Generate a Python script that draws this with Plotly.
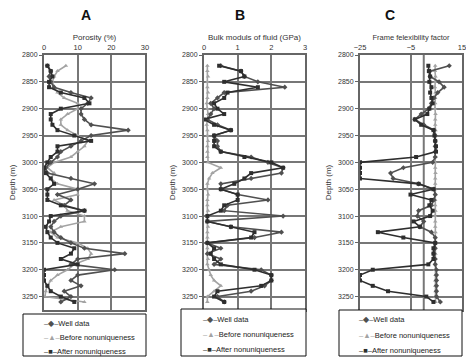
import plotly.graph_objects as go

depth = [2820, 2830, 2840, 2850, 2860, 2870, 2880, 2890, 2900, 2910, 2920, 2930, 2940, 2950, 2960,
         2970, 2980, 2990, 3000, 3010, 3020, 3030, 3040, 3050, 3060, 3070, 3080, 3090, 3100, 3110,
         3120, 3130, 3140, 3150, 3160, 3170, 3180, 3190, 3200, 3210, 3220, 3230, 3240, 3250, 3260]

# Panel A: porosity (%)
poro_well = [1, 2, 1.5, 2, 3, 8, 14, 13, 11, 11, 12, 14, 25, 14, 11,
             8, 5, 4, 2, 0.5, 1, 8, 15, 10, 4, 8, 6, 12, 5, 3,
             2, 3, 5, 8, 12, 24, 10, 8, 21, 10, 8, 11, 6, 8, 5]
poro_before = [6.5, 4, 3, 2.5, 3, 4, 6, 10, 10, 7, 5, 5, 7, 10, 13,
               12, 10, 8, 3, 1, 3, 2, 4, 10, 10, 3, 6, 7, 12, 12,
               5, 2, 4, 10, 13, 14, 13, 9, 7, 4, 2, 1, 0.5, 0.3, 12]
poro_after = [1, 2, 2.5, 1.5, 1.5, 5, 12, 13.5, 5, 2, 2, 2.5, 4, 9, 14,
              4, 4, 2, 1, 0, 0.5, 2, 3, 1, 1, 1, 5, 12, 2, 1.5,
              0.5, 1, 2, 4, 9, 8, 5, 10, 0, 0, 0, 1, 2, 5, 9]

# Panel B: bulk modulus of fluid (GPa)
bulk_well = [0.5, 1.1, 1.2, 1.6, 2.4, 0.6, 0.4, 0.2, 0.3, 0.2, 0.1, 0.4, 0.8, 0.3, 0.4,
             0.4, 0.5, 1.4, 1.9, 2.35, 2.3, 1.4, 0.5, 0.5, 1.0, 1.9, 0.7, 0.6, 2.35, 0.1,
             0.8, 2.3, 1.5, 0.1, 0.5, 0.1, 0.5, 0.3, 1.7, 2.0, 2.0, 1.8, 1.4, 0.4, 0.6]
bulk_before = [0.1, 0.1, 0.12, 0.1, 0.1, 0.12, 0.1, 0.08, 0.1, 0.12, 0.1, 0.08, 0.1, 0.1, 0.12,
               0.1, 0.1, 0.1, 0.12, 0.5, 0.25, 0.15, 0.1, 0.1, 0.12, 0.1, 0.1, 0.12, 0.1, 0.1,
               0.12, 0.1, 0.1, 0.12, 0.1, 0.1, 0.12, 0.1, 0.15, 0.2, 0.3, 0.5, 0.3, 0.1, 0.1]
bulk_after = [0.45, 1.1, 1.2, 0.6, 1.6, 0.7, 0.6, 0.3, 0.4, 0.6, 0.0, 0.3, 0.8, 0.3, 0.3,
              0.3, 0.5, 1.2, 2.0, 2.35, 1.4, 1.2, 0.9, 0.5, 1.0, 1.0, 0.6, 0.5, 0.1, 0.1,
              0.8, 1.5, 1.4, 0.1, 0.3, 0.2, 0.3, 0.5, 1.5, 2.0, 2.0, 1.7, 0.4, 0.3, 0.6]

# Panel C: frame flexibility factor
flex_well = [10, 2.5, 2.5, 6, 8, 5.5, 4, 3, 2, -1, -3.5, 0, 4, 4.5, 4.5,
             4.5, 4.5, 4.5, 3.5, -8, -13, -12, -2, 4, 4.5, 4, 3, -2, -2.5, 0,
             -1.5, 3, 4.5, 4.5, 4.5, 4, 4.5, 4.5, 5, 5, 5, 5, 5, 5, 6.5]
flex_before = [4.5, 4.4, 4.6, 4.5, 4.4, 4.6, 4.5, 4.5, 4.4, 4.6, 4.5, 4.5, 4.6, 4.4, 4.5,
               4.5, 4.6, 4.5, 4.4, 4.5, 4.6, 4.5, 4.5, 4.4, 4.6, 4.5, 4.5, 4.6, 4.4, 4.5,
               4.5, 4.6, 4.5, 4.4, 4.5, 4.6, 4.5, 4.5, 4.4, 4.6, 4.5, 4.5, 4.6, 4.5, 4.6]
flex_after = [1.8, 2, 2.5, 2.2, 3, 2.5, 3, 3.5, 2.2, 1.4, -3.5, -1, 3.8, 4.2, 4.5,
              4.8, 4.8, -3, -25, -25, -25, -25, -2, 3.8, -5.2, 3, 2.2, 3.5, 2.5, -4,
              -1.5, -18, -8, 4.5, 3.8, 3.8, 3.8, 1.8, -20, -25, -25, -20, -14, 1, 3.8]

series_names = ["Well data", "Before nonuniqueness", "After nonuniqueness"]
panel_titles = ["A", "B", "C"]
axis_titles = ["Porosity (%)", "Bulk moduls of fluid (GPa)", "Frame felexibility factor"]
depth_ticks = [2800, 2850, 2900, 2950, 3000, 3050, 3100, 3150, 3200, 3250]

panels = [
    (poro_well, poro_before, poro_after),
    (bulk_well, bulk_before, bulk_after),
    (flex_well, flex_before, flex_after),
]

# the page body has an 8px margin, so the figure is sized to the visible area
OFF = 8
W = 474 - OFF
H = 361 - OFF


def px(x):
    return (x - OFF) / W


def py(y):
    return 1 - (y - OFF) / H


FONT = "Liberation Sans, Arial, sans-serif"
x_doms = [(44, 145), (204, 305), (360, 462)]
y_top, y_bot = 55, 310
x_ranges = [[0, 30], [0, 3], [-25, 15]]
x_tickvals = [[0, 10, 20, 30], [0, 1, 2, 3], [-25, -5, 15]]
axis_title_size = [8, 8, 7.5]
legend_boxes = [(23, 314, 146, 356), (181, 309, 306, 356), (339, 310, 462, 356)]
legend_rows = [(322, 336, 350), (318, 333, 348), (318, 334, 349)]
legend_text_x = [42, 201, 357]
title_x = [86, 240, 390]

styles = [
    dict(color="#505050", symbol="diamond", size=4, glyph="\u25c6"),
    dict(color="#a3a3a3", symbol="triangle-up", size=4, glyph="\u25b2"),
    dict(color="#2e2e2e", symbol="square", size=4, glyph="\u25a0"),
]

fig = go.Figure()
for p, data in enumerate(panels):
    xa = "x" if p == 0 else f"x{p+1}"
    ya = "y" if p == 0 else f"y{p+1}"
    for k in [1, 0, 2]:
        st = styles[k]
        fig.add_trace(go.Scatter(
            x=data[k], y=depth, mode="lines+markers", name=series_names[k],
            line=dict(color=st["color"], width=1.6),
            marker=dict(color=st["color"], symbol=st["symbol"], size=st["size"]),
            xaxis=xa, yaxis=ya, showlegend=False,
        ))

layout = dict(
    width=W, height=H, margin=dict(l=0, r=0, t=0, b=0, autoexpand=False),
    paper_bgcolor="white", plot_bgcolor="white",
    font=dict(family=FONT, size=8, color="#333"),
    showlegend=False,
)
annotations = []
shapes = []
for p in range(3):
    xk = "xaxis" if p == 0 else f"xaxis{p+1}"
    yk = "yaxis" if p == 0 else f"yaxis{p+1}"
    ya = "y" if p == 0 else f"y{p+1}"
    x0, x1 = x_doms[p]
    layout[xk] = dict(
        domain=[px(x0), px(x1)], range=x_ranges[p], side="top", anchor=ya,
        tickvals=x_tickvals[p], showgrid=True, gridcolor="#777", gridwidth=2,
        showline=True, linecolor="#666", linewidth=2, mirror=True,
        zeroline=False, ticks="", tickfont=dict(size=7.5, color="#333"),
        automargin=False,
        title=dict(text=axis_titles[p], font=dict(size=axis_title_size[p], color="#333"), standoff=1),
    )
    layout[yk] = dict(
        domain=[py(y_bot), py(y_top)], range=[3275, 2800],
        anchor="x" if p == 0 else f"x{p+1}",
        tickvals=depth_ticks, showgrid=True, gridcolor="#777", gridwidth=2,
        showline=True, linecolor="#666", linewidth=2, mirror=True,
        zeroline=False, ticks="outside", ticklen=3, tickcolor="#666",
        tickfont=dict(size=7, color="#333"), automargin=False,
        title=dict(text="Depth (m)", font=dict(size=8, color="#333"), standoff=5),
    )
    lx0, ly0, lx1, ly1 = legend_boxes[p]
    shapes.append(dict(type="rect", xref="paper", yref="paper",
                       x0=px(lx0), x1=px(lx1), y0=py(ly1), y1=py(ly0),
                       line=dict(color="#111", width=1), fillcolor="white"))
    for k in range(3):
        st = styles[k]
        txt = (f'<span style="color:{st["color"]}">\u2013{st["glyph"]}\u2013</span>'
               f'{series_names[k]}')
        annotations.append(dict(
            text=txt, x=px(legend_text_x[p]), y=py(legend_rows[p][k] + 1),
            xref="paper", yref="paper", xanchor="left", yanchor="middle",
            showarrow=False, font=dict(size=7.5, color="#222", family=FONT),
        ))
    annotations.append(dict(
        text=f"<b>{panel_titles[p]}</b>", x=px(title_x[p]), y=py(15),
        xref="paper", yref="paper", showarrow=False, xanchor="center", yanchor="middle",
        font=dict(size=14, color="#111", family=FONT),
    ))
shapes.append(dict(type="line", xref="x3", yref="y3 domain", x0=0, x1=0, y0=0, y1=1,
                   line=dict(color="#777", width=2), layer="below"))
layout["annotations"] = annotations
layout["shapes"] = shapes
fig.update_layout(**layout)
fig.write_html("out.html")
